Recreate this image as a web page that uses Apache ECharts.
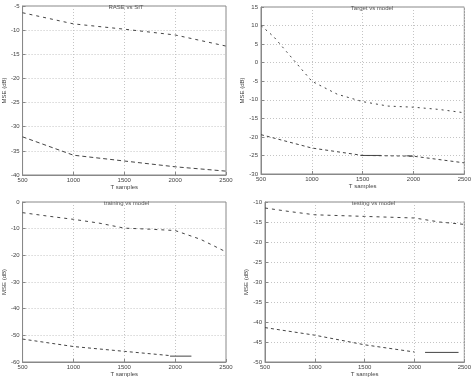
<!DOCTYPE html>
<html>
<head>
<meta charset="utf-8">
<script src="https://cdn.jsdelivr.net/npm/echarts@6/dist/echarts.min.js"></script>
<style>html,body{margin:0;padding:0;background:#fff}#c{width:474px;height:378px}</style>
</head>
<body>
<div id="c"></div>
<script>
// ---- data ----
const titles = ['RASE vs SIT', 'Target vs model', 'training vs model', 'testing vs model'];
const xName = 'T samples';
const yName = 'MSE (dB)';
const xTicks = [500, 1000, 1500, 2000, 2500];

// top-left
const tlUpperX = [500, 1000, 1500, 2000, 2500];
const tlUpperY = [-6.4, -8.7, -9.8, -11.0, -13.3];
const tlLowerX = [500, 1000, 1500, 2000, 2500];
const tlLowerY = [-32.1, -35.9, -37.1, -38.3, -39.2];

// top-right
const trUpperX = [500, 625, 750, 875, 1000, 1250, 1500, 1750, 2000, 2250, 2500];
const trUpperY = [10, 7, 3, -1, -5, -8.5, -10.5, -11.7, -12, -12.6, -13.5];
const trLowerX = [500, 1000, 1500, 2000, 2500];
const trLowerY = [-19.4, -23, -25, -25.2, -27];
const trSolidX = [1480, 1680];
const trSolidY = [-25, -25];
const trSolid2X = [1930, 2000];
const trSolid2Y = [-25.1, -25.2];

// bottom-left
const blUpperX = [500, 750, 1000, 1250, 1500, 1750, 2000, 2250, 2500];
const blUpperY = [-4, -5.3, -6.5, -7.9, -9.8, -10.2, -10.7, -14, -18.7];
const blLowerX = [500, 1000, 1500, 1950];
const blLowerY = [-51.4, -54.2, -56, -57.6];
const blSolidX = [1950, 2160];
const blSolidY = [-57.8, -57.8];

// bottom-right
const brUpperX = [500, 750, 1000, 1250, 1500, 1750, 2000, 2250, 2500];
const brUpperY = [-11.5, -12.4, -13.2, -13.4, -13.6, -13.8, -14, -15, -15.6];
const brLowerX = [500, 1000, 1500, 2000];
const brLowerY = [-41.4, -43.3, -45.7, -47.5];
const brSolidX = [2106, 2442];
const brSolidY = [-47.6, -47.6];

// y axis ranges
const yRanges = [
  {min: -40, max: -5, interval: 5},
  {min: -30, max: 15, interval: 5},
  {min: -60, max: 0, interval: 10},
  {min: -50, max: -10, interval: 5}
];

function pairs(xs, ys) { return xs.map((x, i) => [x, ys[i]]); }

const grids = [
  {left: 16, top: 6, width: 210, height: 169},
  {left: 261, top: 7, width: 212, height: 167},
  {left: 17, top: 202, width: 209, height: 163},
  {left: 265, top: 202, width: 207, height: 164}
];

const FONT = 'Liberation Sans';
const textCol = '#444';

const option = {
  backgroundColor: '#fff',
  animation: false,
  title: titles.map((t, i) => ({
    text: t,
    left: grids[i].left + grids[i].width / 2,
    top: grids[i].top - 7,
    textAlign: 'center',
    textStyle: {fontSize: 6, fontWeight: 'normal', color: '#555', fontFamily: FONT}
  })),
  grid: grids.map(g => Object.assign({show: true, borderColor: '#888', borderWidth: 1, backgroundColor: 'transparent'}, g)),
  xAxis: grids.map((g, i) => ({
    type: 'value', gridIndex: i, min: 500, max: 2500, interval: 500,
    name: xName, nameLocation: 'middle', nameGap: 9,
    nameTextStyle: {fontSize: 6, color: textCol, fontFamily: FONT},
    axisLine: {show: true, onZero: false, lineStyle: {color: '#888'}},
    axisTick: {show: true, inside: true, length: 3, lineStyle: {color: '#888'}},
    axisLabel: {fontSize: 6, color: textCol, margin: 2, fontFamily: FONT, formatter: v => String(v)},
    splitLine: {show: true, lineStyle: {color: '#c4c4c4', type: [1, 2], width: 1}}
  })),
  yAxis: grids.map((g, i) => ({
    type: 'value', gridIndex: i, min: yRanges[i].min, max: yRanges[i].max, interval: yRanges[i].interval,
    name: yName, nameLocation: 'middle', nameGap: 12, nameRotate: 90,
    nameTextStyle: {fontSize: 6, color: textCol, fontFamily: FONT},
    axisLine: {show: true, onZero: false, lineStyle: {color: '#888'}},
    axisTick: {show: true, inside: true, length: 3, lineStyle: {color: '#888'}},
    axisLabel: {fontSize: 6, color: textCol, margin: 3, fontFamily: FONT},
    splitLine: {show: true, lineStyle: {color: '#c4c4c4', type: [1, 2], width: 1}}
  })),
  series: []
};

function addLine(i, xs, ys, type) {
  option.series.push({
    type: 'line', xAxisIndex: i, yAxisIndex: i,
    data: pairs(xs, ys), symbol: 'none', smooth: false,
    lineStyle: {color: '#444', width: 1, type: type}
  });
}

addLine(0, tlUpperX, tlUpperY, [3, 4]);
addLine(0, tlLowerX, tlLowerY, [4, 3]);
addLine(1, trUpperX, trUpperY, [2, 4]);
addLine(1, trLowerX, trLowerY, [3, 3]);
addLine(1, trSolidX, trSolidY, 'solid');
addLine(1, trSolid2X, trSolid2Y, 'solid');
addLine(2, blUpperX, blUpperY, [3, 4]);
addLine(2, blLowerX, blLowerY, [3, 3]);
addLine(2, blSolidX, blSolidY, 'solid');
addLine(3, brUpperX, brUpperY, [3, 4]);
addLine(3, brLowerX, brLowerY, [3, 3]);
addLine(3, brSolidX, brSolidY, 'solid');

const chart = echarts.init(document.getElementById('c'), null, {renderer: 'canvas'});
chart.setOption(option);
</script>
</body>
</html>
